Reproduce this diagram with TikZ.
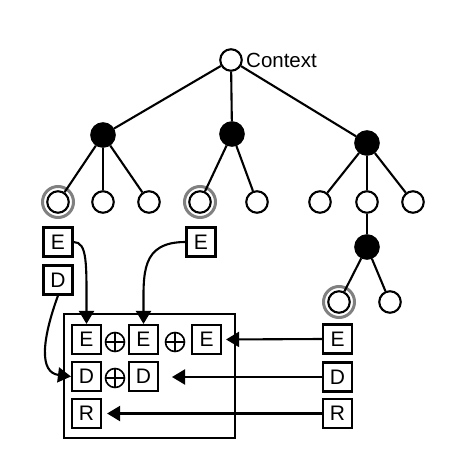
\documentclass[tikz,border=0pt]{standalone}
\usepackage{fontspec}
\setmainfont{Liberation Sans}
\usetikzlibrary{arrows.meta}
\definecolor{ringgray}{RGB}{128,128,128}
\begin{document}
\begin{tikzpicture}[x=1pt,y=-1pt,
  lw/.style={line width=2.1pt},
  wnode/.style={circle,draw,lw,fill=white,minimum size=21.5pt,inner sep=0pt},
  bnode/.style={circle,draw,lw,fill=black,minimum size=23.5pt,inner sep=0pt},
  ring/.style={circle,draw=ringgray,line width=3pt,minimum size=31pt,inner sep=0pt},
  lbox/.style={draw,lw,fill=white,minimum size=29pt,inner sep=0pt,font=\fontsize{21}{21}\selectfont},
  op/.style={circle,draw,line width=1.6pt,minimum size=19pt,inner sep=0pt,
    path picture={\draw[line width=1.6pt] (path picture bounding box.north) -- (path picture bounding box.south) (path picture bounding box.west) -- (path picture bounding box.east);}},
  edge/.style={lw},
  arr/.style={lw,-{Triangle[length=13pt,width=15pt]}}]
\useasboundingbox (0,0) rectangle (474,476);
% rings
\node[ring] (r1) at (58,202) {};
\node[ring] (r2) at (200,202) {};
\node[ring] (r3) at (339,302) {};
% tree nodes
\node[wnode] (root) at (231,60) {};
\node[anchor=west,font=\fontsize{20.5}{21}\selectfont,inner sep=0pt] (ctx) at (246,60) {Context};
\node[bnode] (b1) at (103,135) {};
\node[bnode] (b2) at (232,134) {};
\node[bnode] (b3) at (367,143) {};
\node[wnode] (l1) at (58,202) {};
\node[wnode] (l2) at (103,202) {};
\node[wnode] (l3) at (149,202) {};
\node[wnode] (l4) at (200,202) {};
\node[wnode] (l5) at (257,202) {};
\node[wnode] (l6) at (320,202) {};
\node[wnode] (l7) at (367,202) {};
\node[wnode] (l8) at (413,202) {};
\node[bnode] (b4) at (367,247) {};
\node[wnode] (l9) at (339,302) {};
\node[wnode] (l10) at (390,302) {};
\foreach \a/\b in {root/b1,root/b2,root/b3,b1/l1,b1/l2,b1/l3,b2/l4,b2/l5,b3/l6,b3/l7,b3/l8,l7/b4,b4/l9,b4/l10}
  \draw[edge] (\a) -- (\b);
% left boxes
\node[lbox] (e1) at (58,242) {E};
\node[lbox] (d1) at (58,280) {D};
\node[lbox] (e2) at (201,242) {E};
% big box
\node[draw,lw,minimum width=171pt,minimum height=124pt,inner sep=0pt] (big) at (149.5,376) {};
\node[lbox] (ie1) at (86.5,339.5) {E};
\node[op] (p1) at (115,342) {};
\node[lbox] (ie2) at (143.5,339.5) {E};
\node[op] (p2) at (175,342) {};
\node[lbox] (ie3) at (206.5,339.5) {E};
\node[lbox] (id1) at (86.5,376.5) {D};
\node[op] (p3) at (115,378) {};
\node[lbox] (id2) at (143.5,376.5) {D};
\node[lbox] (ir) at (86.5,413.5) {R};
% right boxes
\node[lbox] (re) at (337.5,339) {E};
\node[lbox] (rd) at (337.5,377) {D};
\node[lbox] (rr) at (337.5,413.5) {R};
\coordinate (dtip) at (172,377);
% arrows
\draw[arr] (e1.east) .. controls +(14,0) and +(0,-60) .. (ie1.north);
\draw[arr] (e2.west) .. controls +(-45,0) and +(0,-50) .. (ie2.north);
\draw[arr] (d1.south) .. controls +(-16,44) and +(-32,-4) .. (id1.west);
\draw[arr,shorten >=4pt] (re.west) -- (ie3.east);
\draw[arr] (rd.west) -- (dtip);
\draw[arr,shorten >=5pt] (rr.west) -- (ir.east);
\end{tikzpicture}
\end{document}
